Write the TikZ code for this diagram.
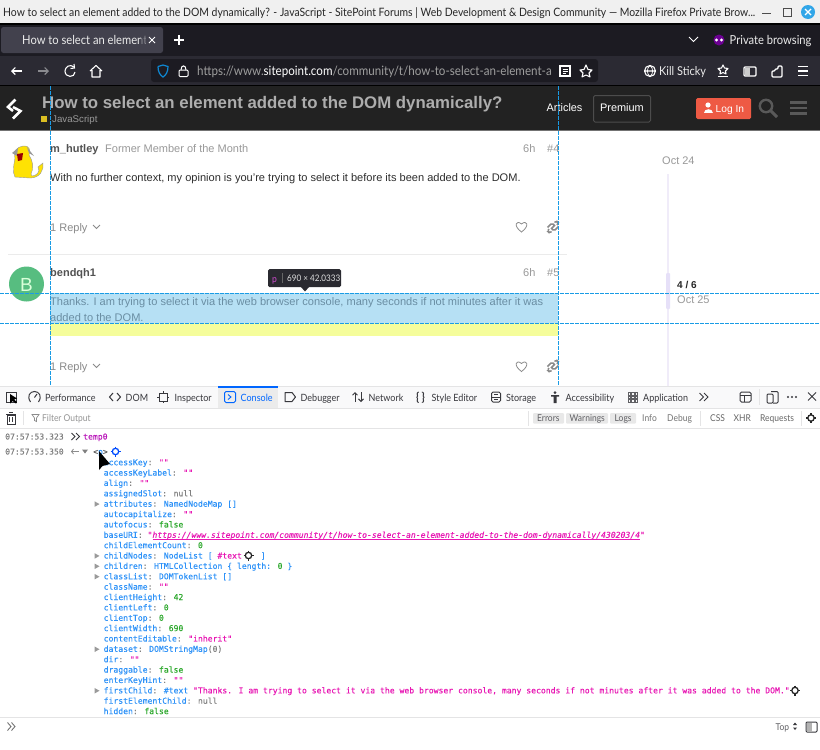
\documentclass[tikz,border=0pt]{standalone}
\usepackage{fontspec}
\usepackage{xcolor}
\setmainfont{Liberation Sans}
\newfontfamily\uifont[FakeStretch=0.9]{Lato}
\newfontfamily\monofont[FakeBold=0.12]{DejaVu Sans Mono}
\usetikzlibrary{positioning, calc, arrows.meta}

\definecolor{titlebg}{HTML}{F0F0F0}
\definecolor{tabbg}{HTML}{1C1B22}
\definecolor{barbg}{HTML}{2B2A33}
\definecolor{tabsel}{HTML}{42414D}
\definecolor{siteheader}{HTML}{222222}
\definecolor{guideblue}{HTML}{1A9CE5}
\definecolor{boxblue}{HTML}{B6E0F4}
\definecolor{boxyellow}{HTML}{F5FD9B}
\definecolor{boxtext}{HTML}{6A8EA3}
\definecolor{metagray}{HTML}{999999}
\definecolor{replygray}{HTML}{8A8A8A}
\definecolor{keyblue}{HTML}{2E92F8}
\definecolor{strpink}{HTML}{E818B4}
\definecolor{valgreen}{HTML}{2CA82C}
\definecolor{nullgray}{HTML}{808080}
\definecolor{devbar}{HTML}{F9F9FA}
\definecolor{devline}{HTML}{E4E4E5}
\definecolor{devtext}{HTML}{38383D}
\definecolor{railcol}{HTML}{F0ECF9}
\definecolor{thumbcol}{HTML}{E6E0F8}
\definecolor{tipbg}{HTML}{2A2A30}
\definecolor{loginbg}{HTML}{EE5A44}
\definecolor{avatargreen}{HTML}{57BD80}

\newcommand{\pxsize}[1]{\fontsize{#1}{#1}\selectfont}
\newcommand{\keytxt}[1]{\textcolor{keyblue}{#1}}
\newcommand{\strtxt}[1]{\textcolor{strpink}{#1}}
\newcommand{\valtxt}[1]{\textcolor{valgreen}{#1}}
\newcommand{\nulltxt}[1]{\textcolor{nullgray}{#1}}
% one line of the object dump
\newcommand{\conrow}[4]{\node[conline] (#1) at (103.5,{465.2+10.37*#2}) {\keytxt{#3}\nulltxt{:} #4};}
\newcommand{\contwist}[1]{\fill[nullgray!80] (94.5,{459.8+10.37*#1}) -- (99.5,{462.6+10.37*#1}) -- (94.5,{465.4+10.37*#1}) -- cycle;}
\newcommand{\targeticon}[3]{\draw[#3,line width=1.3] (#1,#2) circle[radius=3.2];
  \draw[#3,line width=1.1] ({#1-5},#2) -- ({#1-3},#2) ({#1+3},#2) -- ({#1+5},#2) (#1,{#2-5}) -- (#1,{#2-3}) (#1,{#2+3}) -- (#1,{#2+5});}
\newcommand{\hearticon}[2]{\draw[replygray,line width=.8] (#1,{#2+5.5}) .. controls ({#1-9},{#2-1}) and ({#1-5},{#2-7}) .. (#1,{#2-2.5}) .. controls ({#1+5},{#2-7}) and ({#1+9},{#2-1}) .. (#1,{#2+5.5}) -- cycle;}
\newcommand{\linkicon}[2]{\draw[replygray,line width=1.5,rounded corners=1.5] ({#1-5.5},{#2+.5}) -- ({#1-1},{#2-4}) -- ({#1+1},{#2-2}) ({#1-1},{#2+2}) -- ({#1+1},{#2+4}) -- ({#1+5.5},{#2-.5}) ({#1+1.5},{#2-4.5}) -- ({#1+3.5},{#2-6}) -- ({#1+5.5},{#2-4}) -- ({#1+4},{#2-2}) ({#1-1.5},{#2+4.5}) -- ({#1-3.5},{#2+6}) -- ({#1-5.5},{#2+4}) -- ({#1-4},{#2+2}) ({#1-2},{#2+2}) -- ({#1+2},{#2-2});}

\tikzset{
  txt/.style={anchor=base west,inner sep=0pt},
  titletxt/.style={txt,font=\uifont\pxsize{11.55},text=black!85},
  tabtxt/.style={txt,font=\uifont\pxsize{12.4},text=white!92!black},
  meta/.style={txt,font=\pxsize{11},text=metagray},
  posttxt/.style={txt,font=\pxsize{11.05},text=black!82},
  uname/.style={txt,font=\bfseries\pxsize{11},text=black!68},
  devtab/.style={txt,font=\uifont\pxsize{10},text=devtext},
  filt/.style={txt,font=\uifont\pxsize{9.4},text=devtext!80},
  conline/.style={txt,font=\monofont\pxsize{8.1}},
  uiicon/.style={white,line width=1.1},
  devicon/.style={devtext,line width=1},
  guide/.style={guideblue,line width=1,dash pattern=on 3.5pt off 1.5pt},
}

\begin{document}
\begin{tikzpicture}[x=1pt,y=-1pt]
  \useasboundingbox (0,0) rectangle (820,750);
  \fill[white] (0,0) rectangle (820,750);

  % window title bar
  \fill[titlebg] (0,0) rectangle (820,23);
  \fill[black] (0,23) rectangle (820,24.5);
  \node[titletxt] (wintitle) at (3,16) {How to select an element added to the DOM dynamically? - JavaScript - SitePoint Forums | Web Development \& Design Community — Mozilla Firefox Private Brow...};
  \draw[black!70,line width=1] (762,13) -- (771,13);
  \draw[black!70,line width=1] (783,8) rectangle (791,16);
  \fill[guideblue!90!white] (808,12) circle[radius=7];
  \draw[white,line width=1.4] (805,9) -- (811,15) (811,9) -- (805,15);

  % tab strip
  \fill[tabbg] (0,24.5) rectangle (820,56);
  \fill[tabsel,rounded corners=2.5] (1,27) rectangle (163,53);
  \node[tabtxt] (tabtitle) at (22,44.5) {How to select an element};
  \fill[tabsel,opacity=.6] (141,30) rectangle (146,50);
  \fill[tabsel] (146,30) rectangle (162,50);
  \draw[white,line width=.9] (149,37) -- (155,43) (155,37) -- (149,43);
  \draw[white,line width=1.1] (174,40) -- (184,40) (179,35) -- (179,45);
  \draw[white,line width=1] (689,37) -- (693.5,41.5) -- (698,37);
  \fill[violet!85!blue] (719,40) circle[radius=5.5];
  \fill[white] (716.5,40) circle[radius=1.6] (721.5,40) circle[radius=1.6];
  \node[tabtxt] (privlabel) at (729.5,44.5) {Private browsing};

  % navigation bar
  \fill[barbg] (0,56) rectangle (820,85);
  \fill[black] (0,85) rectangle (820,86);
  \fill[tabbg,rounded corners=3] (151,59) rectangle (598,82);
  \draw[uiicon,-{Straight Barb[length=3.5pt,width=7pt]}] (22,71) -- (11,71);
  \draw[white!45!barbg,line width=1.1,-{Straight Barb[length=3.5pt,width=7pt]}] (38,71) -- (49,71);
  \draw[uiicon] (74,67) .. controls (70,63.5) and (65,67) .. (65,71) .. controls (65,78) and (75,78) .. (75,72);
  \draw[uiicon] (74,64) -- (74.5,68) -- (70.5,68.5);
  \draw[uiicon,line join=round] (90,71) -- (96,65.5) -- (102,71) (92,70) -- (92,77) -- (100,77) -- (100,70);
  \draw[cyan!70!blue,line width=1.2] (158,66.5) -- (163,65) -- (168,66.5) .. controls (168,72) and (166,75) .. (163,77) .. controls (160,75) and (158,72) .. (158,66.5);
  \draw[white,line width=1,rounded corners=1] (179,70) rectangle (188,76.5);
  \draw[white,line width=1] (181,70) .. controls (181,64.5) and (186,64.5) .. (186,70);
  \node[txt,font=\uifont\pxsize{12.9},text=white!62!black] (urltxt) at (197,75.5) {https://www.\textcolor{white}{sitepoint.com}/community/t/how-to-select-an-element-a};
  \fill[tabbg] (556,60) rectangle (559,81);
  \draw[uiicon] (560,66) rectangle (570,76);
  \draw[white,line width=.8] (562.5,69) -- (567.5,69) (562.5,71) -- (567.5,71) (562.5,73) -- (566,73);
  \draw[uiicon,line join=round] (586,65) -- (588,69.5) -- (592,70) -- (589,73) -- (590,77) -- (586,75) -- (582,77) -- (583,73) -- (580,70) -- (584,69.5) -- cycle;
  \draw[uiicon] (650,71) circle[radius=5.5] (644.5,71) -- (655.5,71);
  \draw[white,line width=.7] (650,65.5) .. controls (646.5,68) and (646.5,74) .. (650,76.5) .. controls (653.5,74) and (653.5,68) .. (650,65.5);
  \node[tabtxt,font=\uifont\pxsize{12.2}] (killsticky) at (659,75.5) {Kill Sticky};
  \draw[uiicon,line join=round] (723,65) -- (724.5,68) -- (728,68.5) -- (725.5,71) -- (726,74) -- (723,72.5) -- (720,74) -- (720.5,71) -- (718,68.5) -- (721.5,68) -- cycle;
  \draw[uiicon] (718,76.5) -- (728,76.5);
  \draw[uiicon,rounded corners=1] (744,67) rectangle (756,76);
  \fill[white!80!black] (744.5,67.5) rectangle (749.5,75.5);
  \draw[uiicon,rounded corners=1] (772,71) -- (772,77) -- (782,77) -- (782,66) -- (778,66) -- (778,69) -- (775,69) -- (775,71) -- cycle;
  \draw[white,line width=1.1] (798,66.5) -- (808,66.5) (798,71) -- (808,71) (798,75.5) -- (808,75.5);

  % site header
  \fill[siteheader] (0,86) rectangle (820,130);
  \draw[white,line width=2.5,line join=miter] (15.5,99.5) -- (8,107) -- (13,111) (13,107) -- (20.5,111) -- (13,118.5);
  \node[txt,font=\bfseries\pxsize{16.8},text=white!68!black] (sitetitle) at (42,108) {How to select an element added to the DOM dynamically?};
  \fill[yellow!75!orange!85!black] (41,116) rectangle (47,122);
  \node[txt,font=\pxsize{9.7},text=white!60!black] (sitecat) at (52,122.5) {JavaScript};
  \node[txt,font=\pxsize{10.9},text=white] (articles) at (546.5,111) {Articles};
  \draw[white!30!black,line width=1,rounded corners=1.5] (593.5,95.5) rectangle (650.5,122);
  \node[txt,font=\pxsize{10.9},text=white] (premium) at (600,111) {Premium};
  \fill[loginbg,rounded corners=1.5] (696,98) rectangle (751,119);
  \fill[white] (708,105) circle[radius=2.6];
  \fill[white] (703.5,113) .. controls (703.5,107.5) and (712.5,107.5) .. (712.5,113) -- cycle;
  \node[txt,font=\pxsize{10.2},text=white] (login) at (715.5,112.5) {Log In};
  \draw[white!35!black,line width=2.4] (766,106) circle[radius=6.2];
  \draw[white!35!black,line width=3] (770.5,110.5) -- (777,117);
  \draw[white!35!black,line width=2.8] (790,102.5) -- (807,102.5) (790,108) -- (807,108) (790,113.5) -- (807,113.5);
  \fill[black!55] (0,130) rectangle (820,131);

  % first post
  \fill[yellow!85!orange,draw=black!40,line width=.4] (15,158) .. controls (13,151) and (17,147) .. (23,146) .. controls (29,145) and (31,150) .. (29,155) .. controls (33,161) and (34,168) .. (31,174) -- (32,176) .. controls (36,176) and (41,172) .. (38,167) -- (43,163) .. controls (44,170) and (40,178) .. (30,178) -- (15,177) .. controls (12,172) and (14,164) .. (15,158) -- cycle;
  \fill[black!40] (12,153) -- (18,148) -- (17,156) -- cycle;
  \fill[black!40] (27,147) -- (34,156) -- (29,153) -- cycle;
  \fill[red!60!black] (17,154) -- (23,153) -- (22,160) -- (18,161) -- cycle;
  \node[uname] (uone) at (50,152) {m\_hutley};
  \node[meta] (uonetag) at (105,152) {Former Member of the Month};
  \node[meta] (uonetime) at (523,152) {6h};
  \node[meta] (uonenum) at (547,152) {\#4};
  \node[posttxt] (uonebody) at (50,181) {With no further context, my opinion is you’re trying to select it before its been added to the DOM.};
  \node[meta,text=replygray] (uonereply) at (50,231.5) {1 Reply};
  \draw[replygray,line width=1] (93,225) -- (96.5,228.5) -- (100,225);
  \hearticon{521.5}{226.5}
  \linkicon{553}{227}
  \draw[black!8,line width=.8] (8,254.5) -- (567,254.5);

  % second post
  \fill[boxblue] (50,293) rectangle (558,323);
  \fill[boxyellow] (50,323) rectangle (558,335.5);
  \fill[avatargreen] (26.5,284) circle[radius=17.5];
  \node[txt,font=\pxsize{19},text=white!85!green] (bmark) at (20,291) {B};
  \node[uname] (utwo) at (50,276) {bendqh1};
  \node[meta] (utwotime) at (523,276) {6h};
  \node[meta] (utwonum) at (547,276) {\#5};
  \node[posttxt,text=boxtext] (utwoa) at (50,305) {Thanks. I am trying to select it via the web browser console, many seconds if not minutes after it was};
  \node[posttxt,text=boxtext] (utwob) at (50,321) {added to the DOM.};
  \node[meta,text=replygray] (utworeply) at (50,370.5) {1 Reply};
  \draw[replygray,line width=1] (93,364) -- (96.5,367.5) -- (100,364);
  \hearticon{521.5}{366}
  \linkicon{553}{366}

  % timeline
  \draw[railcol,line width=2] (667.5,174) -- (667.5,386);
  \fill[thumbcol,rounded corners=1] (666,273) rectangle (670,309);
  \node[meta] (tlstart) at (662,164.5) {Oct 24};
  \node[txt,font=\bfseries\pxsize{10},text=black!85] (tlpos) at (677,288) {4 / 6};
  \node[meta] (tlend) at (677,303.5) {Oct 25};

  % box model guides
  \draw[guide] (50,86) -- (50,386);
  \draw[guide] (558,86) -- (558,386);
  \draw[guide] (0,293) -- (820,293);
  \draw[guide] (0,323) -- (820,323);

  % dimensions tooltip
  \fill[tipbg,rounded corners=1.5] (268,269) rectangle (341,287);
  \fill[tipbg] (301,287) -- (305,291.5) -- (309,287) -- cycle;
  \node[txt,font=\uifont\pxsize{9.5},text=violet!50!magenta!70!white] (tipel) at (272,282) {p};
  \draw[white!40!black,line width=.6] (282,273) -- (282,283);
  \node[txt,font=\uifont\pxsize{9},text=white!88!black] (tipsize) at (287,281.5) {690 × 42.0333};

  % devtools tabs
  \fill[devbar] (0,386) rectangle (820,408);
  \draw[devline,line width=1] (0,386.5) -- (820,386.5) (0,408) -- (820,408);
  \fill[black!8] (218,387) rectangle (278,408);
  \fill[blue!60!cyan] (218,386) rectangle (278,388);
  \draw[devicon] (6,392.5) rectangle (16,402);
  \fill[black] (10,394) -- (10,403.5) -- (12.5,401) -- (16,403.5) -- (17,402) -- (14,399.5) -- (17,398.5) -- cycle;
  \draw[devicon] (30.5,402) .. controls (26.5,396) and (30,391.5) .. (34.5,391.5) .. controls (39,391.5) and (42.5,396) .. (38.5,402);
  \draw[devicon] (34.5,397.5) -- (37,394);
  \node[devtab] (tperf) at (45,401) {Performance};
  \draw[devicon] (113,393) -- (109.5,397) -- (113,401) (117,393) -- (120.5,397) -- (117,401);
  \node[devtab] (tdom) at (125.5,401) {DOM};
  \draw[devicon] (159,393) rectangle (167,401);
  \draw[devicon] (163,391) -- (163,393) (163,401) -- (163,403) (157,397) -- (159,397) (167,397) -- (169,397);
  \node[devtab] (tinsp) at (174.5,401) {Inspector};
  \draw[blue!60!cyan,line width=1,rounded corners=1.5] (224.5,391.5) rectangle (235.5,402.5);
  \draw[blue!60!cyan,line width=.9] (228,394.5) -- (231,397) -- (228,399.5);
  \node[devtab,text=blue!60!cyan] (tcons) at (240.5,401) {Console};
  \draw[devicon,line join=round] (285,392.5) -- (292,392.5) -- (295.5,397) -- (292,401.5) -- (285,401.5) -- cycle;
  \node[devtab] (tdebug) at (300.5,401) {Debugger};
  \draw[devicon,-{Straight Barb[length=2.5pt,width=5pt]}] (355,402) -- (355,392);
  \draw[devicon,-{Straight Barb[length=2.5pt,width=5pt]}] (361,392) -- (361,402);
  \node[devtab] (tnet) at (368.5,401) {Network};
  \node[txt,font=\uifont\bfseries\pxsize{12},text=devtext] (braces) at (416,401.5) {\{\,\}};
  \node[devtab] (tstyle) at (431.5,401) {Style Editor};
  \draw[devicon,rounded corners=1.5] (491.5,392) rectangle (500.5,402);
  \draw[devicon] (491.5,397) -- (500.5,397) (494,394.5) -- (498,394.5) (494,399.5) -- (498,399.5);
  \node[devtab] (tstore) at (506,401) {Storage};
  \fill[devtext] (555,392.5) circle[radius=1.5] (551,395) rectangle (559,396.5) (553.5,396) rectangle (556.5,403);
  \node[devtab] (taccess) at (565.5,401) {Accessibility};
  \foreach \ix in {628,631.5,635}
    \foreach \iy in {392.5,396,399.5}
      \draw[devtext!80,line width=.5] (\ix,\iy) rectangle ++(2.5,2.5);
  \node[devtab] (tapp) at (643,401) {Application};
  \draw[devicon] (699.5,393) -- (703.5,397) -- (699.5,401) (704,393) -- (708,397) -- (704,401);
  \draw[devicon,rounded corners=1.5] (740,392) rectangle (751,402);
  \draw[devicon] (740,395.5) -- (751,395.5) (744,395.5) -- (744,402);
  \draw[devline,line width=.8] (759.5,389) -- (759.5,405);
  \draw[devicon,rounded corners=1] (767,394) rectangle (773,403);
  \draw[devicon,rounded corners=1] (771,391.5) -- (778,391.5) -- (778,403) -- (773,403);
  \fill[devtext] (788,397) circle[radius=1.1] (792,397) circle[radius=1.1] (796,397) circle[radius=1.1];
  \draw[devicon] (808,392.5) -- (816,400.5) (816,392.5) -- (808,400.5);

  % console filter bar
  \draw[devline,line width=1] (0,428.5) -- (820,428.5);
  \draw[devicon] (7,415) rectangle (15,424) (6,414) -- (16,414) (9,412.5) -- (13,412.5);
  \draw[devicon,line width=.5] (9.5,417) -- (9.5,422) (12.5,417) -- (12.5,422);
  \draw[devline,line width=.8] (23,411) -- (23,425);
  \draw[black!45,line width=.7] (32,414.5) -- (39,414.5) -- (36.5,418) -- (36.5,421.5) -- (34.5,420.5) -- (34.5,418) -- cycle;
  \node[filt,text=black!42] (filtinput) at (42,421.5) {Filter Output};
  \draw[devline,line width=.8] (528.5,411) -- (528.5,426);
  \fill[black!9,rounded corners=1] (533,413) rectangle (564,423.5);
  \fill[black!9,rounded corners=1] (566,413) rectangle (608,423.5);
  \fill[black!9,rounded corners=1] (610,413) rectangle (636,423.5);
  \node[filt] (ferr) at (537,421.5) {Errors};
  \node[filt] (fwarn) at (569.5,421.5) {Warnings};
  \node[filt] (flog) at (614.5,421.5) {Logs};
  \node[filt,text=black!55] (finfo) at (642,421.5) {Info};
  \node[filt,text=black!55] (fdebug) at (667,421.5) {Debug};
  \draw[devline,line width=.8] (700,411) -- (700,426);
  \node[filt,text=black!60] (fcss) at (710,421.5) {CSS};
  \node[filt,text=black!60] (fxhr) at (733.5,421.5) {XHR};
  \node[filt,text=black!60] (freq) at (760,421.5) {Requests};
  \draw[devline,line width=.8] (801,411) -- (801,426);
  \targeticon{811}{418}{black!85}

  % console output
  \node[conline,text=black!50] (timeone) at (5,439.5) {07:57:53.323};
  \draw[devtext,line width=.9] (71.5,433) -- (75,436.5) -- (71.5,440) (76,433) -- (79.5,436.5) -- (76,440);
  \node[conline,text=violet!60!magenta!90!white] (cmdtemp) at (83,439.5) {temp0};
  \node[conline,text=black!50] (timetwo) at (5,454.5) {07:57:53.350};
  \draw[black!45,line width=.8,-{Straight Barb[length=2pt,width=5pt]}] (78.5,451.5) -- (71,451.5);
  \fill[black!50] (82,449.5) -- (88,449.5) -- (85,453.5) -- cycle;
  \node[conline,text=black!65] (eltag) at (93,454.5) {<\textcolor{keyblue}{p}>};
  \targeticon{115.5}{451.5}{blue!70!cyan}

  \conrow{raccesskey}{0}{accessKey}{\strtxt{""}}
  \conrow{raccesslabel}{1}{accessKeyLabel}{\strtxt{""}}
  \conrow{ralign}{2}{align}{\strtxt{""}}
  \conrow{rslot}{3}{assignedSlot}{\nulltxt{null}}
  \conrow{rattrs}{4}{attributes}{\keytxt{NamedNodeMap []}}
  \conrow{rcap}{5}{autocapitalize}{\strtxt{""}}
  \conrow{rfocus}{6}{autofocus}{\valtxt{false}}
  \conrow{rbase}{7}{baseURI}{\strtxt{"\textit{https://www.sitepoint.com/community/t/how-to-select-an-element-added-to-the-dom-dynamically/430203/4}"}}
  \draw[strpink,line width=.6] (152.5,539) -- (640,539);
  \conrow{rcount}{8}{childElementCount}{\valtxt{0}}
  \conrow{rnodes}{9}{childNodes}{\keytxt{NodeList [} \strtxt{\#text}\hspace{19pt}\keytxt{]}}
  \conrow{rchildren}{10}{children}{\keytxt{HTMLCollection \{ length:} \valtxt{0} \keytxt{\}}}
  \conrow{rclasslist}{11}{classList}{\keytxt{DOMTokenList []}}
  \conrow{rclassname}{12}{className}{\strtxt{""}}
  \conrow{rheight}{13}{clientHeight}{\valtxt{42}}
  \conrow{rleft}{14}{clientLeft}{\valtxt{0}}
  \conrow{rtop}{15}{clientTop}{\valtxt{0}}
  \conrow{rwidth}{16}{clientWidth}{\valtxt{690}}
  \conrow{redit}{17}{contentEditable}{\strtxt{"inherit"}}
  \conrow{rdata}{18}{dataset}{\keytxt{DOMStringMap}\nulltxt{(0)}}
  \conrow{rdir}{19}{dir}{\strtxt{""}}
  \conrow{rdrag}{20}{draggable}{\valtxt{false}}
  \conrow{renter}{21}{enterKeyHint}{\strtxt{""}}
  \conrow{rfirst}{22}{firstChild}{\strtxt{\textcolor{keyblue}{\#text} "Thanks. I am trying to select it via the web browser console, many seconds if not minutes after it was added to the DOM."}}
  \conrow{rfirstel}{23}{firstElementChild}{\nulltxt{null}}
  \conrow{rhidden}{24}{hidden}{\valtxt{false}}
  \contwist{4}
  \contwist{9}
  \contwist{10}
  \contwist{11}
  \contwist{18}
  \contwist{22}
  \targeticon{248.5}{555.5}{black!85}
  \targeticon{795}{690.5}{black!85}

  % mouse pointer
  \fill[black] (99,451) -- (99,470) -- (102.5,466) -- (110,464) -- cycle;

  % console input
  \draw[devline,line width=1] (0,717) -- (820,717);
  \draw[black!55,line width=.9] (7.5,722.5) -- (11,726.5) -- (7.5,730.5) (11.5,722.5) -- (15,726.5) -- (11.5,730.5);
  \node[filt] (evaltop) at (775.5,730) {Top};
  \fill[devtext] (793,725) -- (797,725) -- (795,722.5) -- cycle (793,727.5) -- (797,727.5) -- (795,730) -- cycle;
  \draw[devicon,rounded corners=1] (806,722) rectangle (817,732);
  \fill[black!30] (807,722.5) rectangle (811.5,731.5);
\end{tikzpicture}
\end{document}
